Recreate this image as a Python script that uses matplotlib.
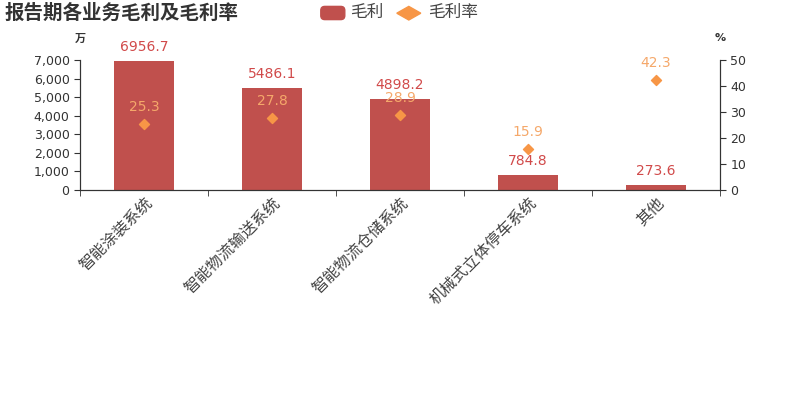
import numpy as np
import matplotlib.pyplot as plt
from matplotlib.patches import FancyBboxPatch, Polygon

plt.rcParams['font.family'] = ['DejaVu Sans', 'Noto Sans CJK SC']

categories = ['智能涂装系统', '智能物流输送系统', '智能物流仓储系统', '机械式立体停车系统', '其他']
gross_profit = [6956.7, 5486.1, 4898.2, 784.8, 273.6]   # 万
gross_margin = [25.3, 27.8, 28.9, 15.9, 42.3]           # %

cjk = ['Noto Sans CJK SC', 'DejaVu Sans']
bar_color = '#c0504d'
dot_color = '#f79646'
bar_text = '#d14a4a'
dot_text = '#f5a86a'
axis_color = '#333333'

fig = plt.figure(figsize=(8, 4), dpi=100)
ax = fig.add_axes([0.1, 0.525, 0.8, 0.325])
ax2 = ax.twinx()

x = np.arange(len(categories))
ax.bar(x, gross_profit, width=0.47, color=bar_color, zorder=2)
ax2.scatter(x, gross_margin, marker='D', s=26, color=dot_color, zorder=3)

for xi, v in zip(x, gross_profit):
    ax.annotate(f'{v:.1f}', (xi, v), xytext=(0, 5), textcoords='offset points',
                ha='center', va='bottom', color=bar_text, fontsize=10)
for xi, v in zip(x, gross_margin):
    ax2.annotate(f'{v:.1f}', (xi, v), xytext=(0, 7), textcoords='offset points',
                 ha='center', va='bottom', color=dot_text, fontsize=10)

ax.set_xlim(-0.5, len(categories) - 0.5)
ax.set_ylim(0, 7000)
ax.set_yticks(np.arange(0, 7001, 1000))
ax.set_yticklabels([f'{int(t):,}' for t in np.arange(0, 7001, 1000)])
ax2.set_ylim(0, 50)
ax2.set_yticks(np.arange(0, 51, 10))

ax.set_xticks(x)
ax.set_xticklabels(categories, rotation=45, ha='right', rotation_mode='anchor',
                   fontsize=11.5, color='#444444', family=cjk)
ax.set_xticks(np.arange(-0.5, len(categories)), minor=True)
ax.tick_params(axis='x', which='major', length=0, pad=3)
ax.tick_params(axis='x', which='minor', length=4, color=axis_color)
ax.tick_params(axis='y', labelsize=9, colors=axis_color, length=4)
ax2.tick_params(axis='y', labelsize=9, colors=axis_color, length=4)

for a in (ax, ax2):
    a.spines['top'].set_visible(False)
    for s in ('left', 'right', 'bottom'):
        a.spines[s].set_color(axis_color)

fig.text(0.1, 0.905, '万', ha='center', va='center', fontsize=8, color=axis_color,
         family=cjk, fontweight='bold')
fig.text(0.9, 0.905, '%', ha='center', va='center', fontsize=8, color=axis_color,
         fontweight='bold')

fig.text(0.006, 0.967, '报告期各业务毛利及毛利率', ha='left', va='center',
         fontsize=14, fontweight='bold', color='#333333', family=cjk)

# legend
box = FancyBboxPatch((0.401, 0.951), 0.030, 0.033, boxstyle='round,pad=0,rounding_size=0.005',
                     transform=fig.transFigure, color=bar_color, mutation_aspect=2)
fig.patches.append(box)
fig.text(0.438, 0.968, '毛利', ha='left', va='center', fontsize=12, color='#444444', family=cjk)
diamond = Polygon([(0.496, 0.967), (0.511, 0.984), (0.526, 0.967), (0.511, 0.950)],
                  closed=True, transform=fig.transFigure, color=dot_color)
fig.patches.append(diamond)
fig.text(0.535, 0.968, '毛利率', ha='left', va='center', fontsize=12, color='#444444', family=cjk)

fig.savefig('out.png', dpi=100)
